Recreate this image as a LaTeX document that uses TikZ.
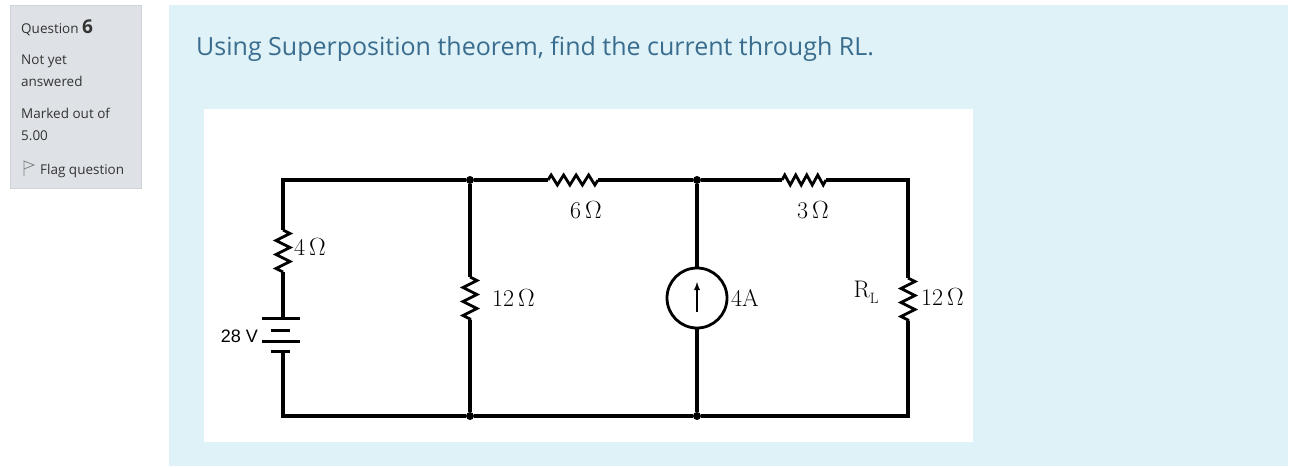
\documentclass[tikz,border=0pt]{standalone}
\usepackage{fontspec}
\setmainfont{Open Sans}
\newfontfamily\ser{Latin Modern Roman}
\newfontfamily\ars{Liberation Sans}
\usetikzlibrary{decorations.pathmorphing}
\definecolor{side}{HTML}{DEE2E6}
\definecolor{sideb}{HTML}{CED4DA}
\definecolor{panel}{HTML}{DEF2F8}
\definecolor{ttl}{HTML}{3A6C8E}
\begin{document}
\begin{tikzpicture}[x=1pt,y=-1pt,
  w/.style={line width=3.5pt},
  res/.style={line width=2.8pt,decorate,decoration={zigzag,segment length=14pt,amplitude=7pt}},
  lab/.style={font=\ser\fontsize{24}{24}\selectfont,inner sep=0pt},
  st/.style={font=\fontsize{13.5}{16}\selectfont,text=black!80,anchor=base west,inner sep=0pt},
  dot/.style={circle,fill,inner sep=0pt,minimum size=8pt}]
\useasboundingbox (0,0) rectangle (1290,468);
\fill[white] (0,0) rectangle (1290,468);
\draw[sideb,fill=side] (10,5) rectangle (141,188);
\fill[panel] (169,5) rectangle (1288,466);
\fill[white] (204,109) rectangle (973,442);
\node[st] (q) at (21,34) {Question \fontsize{19}{19}\selectfont\bfseries 6};
\node[st] (n1) at (21,65) {Not yet};
\node[st] (n2) at (21,87) {answered};
\node[st] (m1) at (21,119) {Marked out of};
\node[st] (m2) at (21,140) {5.00};
\node[st] (fl) at (40,174) {Flag question};
\draw[gray,line width=0.8pt] (24,176) -- (24,161) -- (34,165) -- (24,169);
\node[anchor=base west,inner sep=0pt,text=ttl,font=\fontsize{25}{25}\selectfont] (t) at (196,56) {Using Superposition theorem, find the current through RL.};
% nodes
\coordinate (tl) at (283,180); \coordinate (bl) at (283,416);
\node[dot] (tm) at (470,180) {}; \node[dot] (bm) at (470,416) {};
\node[dot] (ts) at (697,180) {}; \node[dot] (bs) at (697,416) {};
\coordinate (tr) at (908,180); \coordinate (br) at (908,416);
\coordinate (r4a) at (283,230); \coordinate (r4b) at (283,272);
\coordinate (r12a) at (470,277); \coordinate (r12b) at (470,320);
\coordinate (r6a) at (548,180); \coordinate (r6b) at (598,180);
\coordinate (r3a) at (782,180); \coordinate (r3b) at (826,180);
\coordinate (rla) at (908,278); \coordinate (rlb) at (908,321);
\node[circle,draw,line width=2.8pt,minimum size=60pt,inner sep=0pt] (cs) at (697,298) {};
% wires
\draw[w] (r4a) -- (tl) -- (tm) -- (r6a);
\draw[w] (r6b) -- (ts) -- (r3a);
\draw[w] (r3b) -- (tr) -- (rla);
\draw[w] (rlb) -- (br) -- (bs) -- (bm) -- (bl) -- (283,351);
\draw[w] (r4b) -- (283,318);
\draw[w] (tm) -- (r12a); \draw[w] (r12b) -- (bm);
\draw[w] (ts) -- (cs.north); \draw[w] (cs.south) -- (bs);
\draw[res] (r4a) -- (r4b);
\draw[res] (r12a) -- (r12b);
\draw[res] (rla) -- (rlb);
\draw[res,decoration={amplitude=5pt,segment length=12.5pt}] (r6a) -- (r6b);
\draw[res,decoration={amplitude=5pt,segment length=11pt}] (r3a) -- (r3b);
% battery
\draw[line width=3pt] (262,318) -- (300,318) (271,330) -- (290,330) (262,341) -- (300,341) (271,351) -- (290,351);
\draw[line width=1.8pt,-latex] (697,312) -- (697,282);
% labels
\node[lab] (l6) at (586,210) {6\,$\Omega$};
\node[lab] (l3) at (813,210) {3\,$\Omega$};
\node[lab,anchor=west] (l4) at (294,247) {4\,$\Omega$};
\node[lab,anchor=west] (l12) at (492,298) {12\,$\Omega$};
\node[lab,anchor=west] (l4a) at (731,298) {4A};
\node[lab] (lrl) at (866,292) {R\raisebox{-6pt}{\fontsize{15}{15}\selectfont L}};
\node[lab,anchor=west] (l12b) at (921,297) {12\,$\Omega$};
\node[font=\ars\fontsize{18}{18}\selectfont,anchor=east,inner sep=0pt] (v) at (258,336) {28 V};
\end{tikzpicture}
\end{document}
